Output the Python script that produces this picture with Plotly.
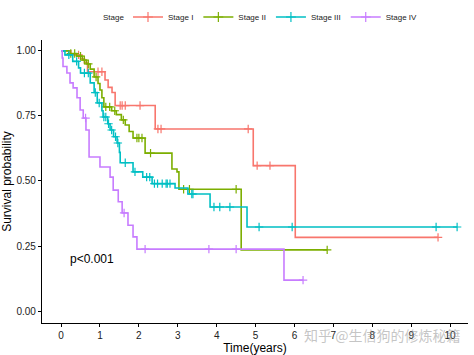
import numpy as np
import plotly.graph_objects as go

# ---- data ----
stages = ["Stage I", "Stage II", "Stage III", "Stage IV"]
colors = ["#F8766D", "#7CAE00", "#00BFC4", "#C77CFF"]
legend_title = "Stage"

# event times (years) and survival after each event
s1_t = [0.25, 0.5, 0.6, 0.68, 1.13, 1.21, 1.31, 1.39, 2.42, 4.94, 6.02]
s1_s = [0.985, 0.97, 0.955, 0.92, 0.888, 0.86, 0.84, 0.79, 0.70, 0.559, 0.283]
s1_c = [0.45, 0.95, 1.05, 1.52, 1.57, 1.65, 2.03, 2.49, 2.57, 4.81, 5.04, 5.37, 9.69]

s2_t = [0.2, 0.4, 0.55, 0.65, 0.75, 0.85, 0.95, 1.0, 1.05, 1.1, 1.3, 1.42, 1.55, 1.65,
        1.75, 1.85, 2.16, 2.85, 2.98, 3.03, 4.63]
s2_s = [0.99, 0.98, 0.965, 0.95, 0.93, 0.90, 0.875, 0.85, 0.82, 0.785, 0.77, 0.755,
        0.735, 0.715, 0.69, 0.665, 0.607, 0.546, 0.535, 0.468, 0.235]
s2_c = [0.25, 0.35, 0.5, 0.6, 0.7, 0.9, 1.15, 1.25, 1.38, 1.6, 1.95, 2.0, 2.08, 2.3,
        3.15, 3.3, 4.5, 6.84]

s3_t = [0.1, 0.3, 0.45, 0.5, 0.75, 0.85, 0.93, 1.05, 1.08, 1.2, 1.26, 1.35, 1.44, 1.5,
        1.52, 1.85, 2.1, 2.34, 2.93, 3.26, 3.83, 4.78]
s3_s = [0.985, 0.96, 0.935, 0.915, 0.877, 0.84, 0.80, 0.77, 0.746, 0.72, 0.696, 0.67,
        0.646, 0.61, 0.57, 0.535, 0.515, 0.49, 0.473, 0.45, 0.40, 0.323]
s3_c = [0.2, 0.4, 0.6, 0.7, 0.88, 0.98, 1.1, 1.15, 1.22, 1.3, 1.4, 1.46, 1.65, 1.9,
        2.2, 2.28, 2.4, 2.48, 2.6, 2.7, 2.73, 2.8, 3.36, 3.39, 3.93, 4.08, 4.34, 5.09,
        5.94, 9.64, 10.18]

s4_t = [0.03, 0.05, 0.15, 0.23, 0.31, 0.41, 0.49, 0.57, 0.64, 0.72, 1.0, 1.26, 1.34,
        1.47, 1.57, 1.72, 1.85, 1.95, 5.73]
s4_s = [0.973, 0.94, 0.915, 0.877, 0.858, 0.82, 0.773, 0.742, 0.696, 0.592, 0.554,
        0.515, 0.465, 0.42, 0.377, 0.33, 0.285, 0.238, 0.119]
s4_c = [0.63, 1.62, 2.16, 3.8, 4.5, 6.22]

event_times = [s1_t, s2_t, s3_t, s4_t]
event_surv = [s1_s, s2_s, s3_s, s4_s]
censor_times = [s1_c, s2_c, s3_c, s4_c]

x_ticks = list(range(0, 11))
y_ticks = [0.0, 0.25, 0.5, 0.75, 1.0]
y_tick_labels = ["0.00", "0.25", "0.50", "0.75", "1.00"]
pval_text = "p<0.001"
watermark = "知乎 @生信狗的修炼秘籍"

FONT = "Liberation Sans, Arial, sans-serif"
W, H = 474, 355
ML, MR, MT, MB = 42, 6, 40, 32
PW, PH = W - ML - MR, H - MT - MB

fig = go.Figure()
for name, col, et, es, ct in zip(stages, colors, event_times, event_surv, censor_times):
    et = np.array(et)
    es = np.array(es)
    ct = np.array(ct)
    t_end = max(et.max(), ct.max())
    xs = np.concatenate([[0.0], et, [t_end]])
    ys = np.concatenate([[1.0], es, [es[-1]]])
    fig.add_trace(go.Scatter(x=xs, y=ys, mode="lines", line=dict(color=col, width=1.6, shape="hv"),
                             legendgroup=name, showlegend=False, hoverinfo="skip"))
    # survival at censor times from the step function
    idx = np.searchsorted(et, ct, side="right")
    cs = np.where(idx == 0, 1.0, es[np.maximum(idx - 1, 0)])
    fig.add_trace(go.Scatter(x=ct, y=cs, mode="markers",
                             marker=dict(symbol="cross-thin", size=6, color=col,
                                         line=dict(color=col, width=1.2)),
                             legendgroup=name, showlegend=False))
    # legend entry
    fig.add_trace(go.Scatter(x=[None], y=[None], mode="lines+markers", name=name,
                             line=dict(color=col, width=1.6),
                             marker=dict(symbol="cross-thin", size=7, color=col,
                                         line=dict(color=col, width=1.2)),
                             legendgroup=name))

fig.add_annotation(x=0.18, y=0.2, xref="x", yref="y", text=pval_text, showarrow=False,
                   xanchor="left", yanchor="middle", font=dict(family=FONT, size=12, color="black"))
fig.add_annotation(x=0.985, y=-0.042, xref="paper", yref="paper", text=watermark, showarrow=False,
                   xanchor="right", yanchor="middle",
                   font=dict(family="Noto Sans CJK SC", size=14, color="rgba(140,140,140,0.5)"))
# legend title, set inline with the legend entries
fig.add_annotation(x=(126 - ML) / PW, y=1 + (MT - 17) / PH, xref="paper", yref="paper",
                   text=legend_title, showarrow=False, xanchor="right", yanchor="middle",
                   font=dict(family=FONT, size=8, color="#222"))

fig.update_layout(
    width=W, height=H,
    margin=dict(l=ML, r=MR, t=MT, b=MB, autoexpand=False),
    paper_bgcolor="white", plot_bgcolor="white",
    font=dict(family=FONT, color="black"),
    legend=dict(orientation="h", x=128 / W, xanchor="left", xref="container",
                y=1 - 17 / H, yanchor="middle", yref="container",
                font=dict(size=8, color="#222"), itemwidth=30, tracegroupgap=0),
    xaxis=dict(range=[-0.49, 10.46], tickvals=x_ticks, showgrid=False, zeroline=False,
               showline=True, linecolor="black", linewidth=1.1, ticks="outside", ticklen=3,
               tickcolor="black", tickfont=dict(size=10, color="#222"), automargin=False,
               title=dict(text="Time(years)", font=dict(size=12, color="black"), standoff=0)),
    yaxis=dict(range=[-0.046, 1.042], tickvals=y_ticks, ticktext=y_tick_labels, showgrid=False,
               zeroline=False, showline=True, linecolor="black", linewidth=1.1, ticks="outside",
               ticklen=3, tickcolor="black", tickfont=dict(size=10, color="#222"), automargin=False,
               title=dict(text="Survival probability", font=dict(size=12, color="black"), standoff=2)),
)

fig.write_html("out.html", config={"displayModeBar": False},
               post_script="document.body.style.margin='0px';")
